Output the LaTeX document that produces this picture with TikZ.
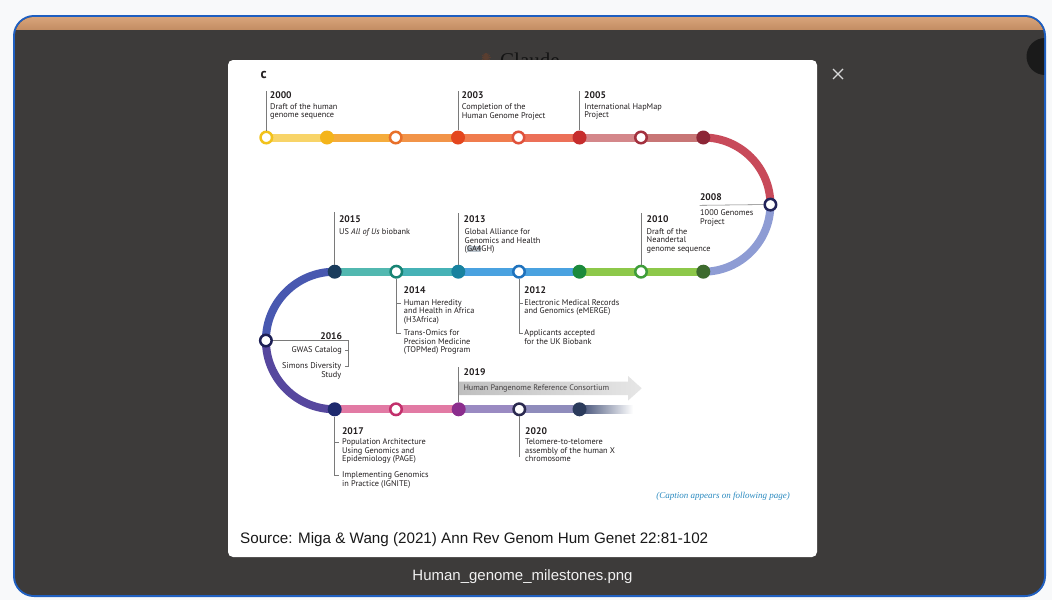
\documentclass[tikz,border=0pt]{standalone}
\usepackage{fontspec}
\newfontfamily\pts{PT Sans}
\newfontfamily\las{Liberation Sans}
\newfontfamily\lser{Liberation Serif}
\usetikzlibrary{calc}
\definecolor{pagebg}{HTML}{F8F9FA}
\definecolor{frameblue}{HTML}{1F5FC0}
\definecolor{darkbg}{HTML}{3D3B3A}
\definecolor{tanA}{HTML}{D8A47A}
\definecolor{tanB}{HTML}{C48E64}
\definecolor{btn}{HTML}{1A1A1A}
\definecolor{wm}{HTML}{141414}
\definecolor{wmicon}{HTML}{5A3E30}
\definecolor{xgray}{HTML}{D8D8D8}
\definecolor{ink}{HTML}{231F20}
\definecolor{leadc}{HTML}{7A7A7A}
\definecolor{hl}{HTML}{B9C3CC}
\definecolor{capc}{HTML}{2A8AC0}
% stations
\definecolor{cT1}{HTML}{F2C21B}\definecolor{cT2}{HTML}{F4B41A}\definecolor{cT3}{HTML}{E8702A}
\definecolor{cT4}{HTML}{E4461E}\definecolor{cT5}{HTML}{E0523C}\definecolor{cT6}{HTML}{C62D2D}
\definecolor{cT7}{HTML}{A3303E}\definecolor{cT8}{HTML}{8C2636}\definecolor{cR}{HTML}{22245A}
\definecolor{cM1}{HTML}{3D6B2E}\definecolor{cM2}{HTML}{3F9D3A}\definecolor{cM3}{HTML}{1B8A3C}
\definecolor{cM4}{HTML}{1F72BD}\definecolor{cM5}{HTML}{18829F}\definecolor{cM6}{HTML}{188474}
\definecolor{cM7}{HTML}{1A3C5C}\definecolor{cL}{HTML}{1D1F55}
\definecolor{cB1}{HTML}{1E2A6E}\definecolor{cB2}{HTML}{C2306C}\definecolor{cB3}{HTML}{8B2D8D}
\definecolor{cB4}{HTML}{2B2A50}\definecolor{cB5}{HTML}{2B3B5C}
% segments
\definecolor{s1}{HTML}{F8D468}\definecolor{s2}{HTML}{F5AC3C}\definecolor{s3}{HTML}{F29448}
\definecolor{s4}{HTML}{F07C4E}\definecolor{s5}{HTML}{EC7058}\definecolor{s6}{HTML}{D4878A}
\definecolor{s7}{HTML}{C87676}\definecolor{arcRa}{HTML}{C84A5A}\definecolor{arcRb}{HTML}{8E9CD4}
\definecolor{g1}{HTML}{8DC84A}\definecolor{bl1}{HTML}{4AA2E0}\definecolor{te1}{HTML}{46B2B6}
\definecolor{te2}{HTML}{52B8B0}\definecolor{arcLa}{HTML}{4858B0}\definecolor{arcLb}{HTML}{56479E}
\definecolor{pk}{HTML}{E27AA4}\definecolor{lv1}{HTML}{9A8AC2}\definecolor{lv2}{HTML}{8F8CBC}
\definecolor{fadeA}{HTML}{3E4C74}\definecolor{arrA}{HTML}{BFBFBF}\definecolor{arrB}{HTML}{E6E6E6}
\begin{document}
\begin{tikzpicture}[x=1pt,y=-1pt,
  seg/.style={line width=8pt},
  fst/.style={circle,inner sep=0pt,minimum size=14pt,draw=none},
  ost/.style={circle,inner sep=0pt,minimum size=11.5pt,line width=2.5pt,fill=white},
  lead/.style={draw=leadc,line width=0.55pt},
  yr/.style={font=\pts\bfseries\fontsize{9.6}{10}\selectfont,inner sep=0pt,anchor=west,text=ink},
  body/.style={font=\pts\fontsize{8.3}{8.6}\selectfont,inner sep=0pt,anchor=north west,align=left,text=ink},
  bodyr/.style={body,anchor=north east,align=right},
]
\useasboundingbox (0,0) rectangle (1052,600);
\fill[pagebg] (0,0) rectangle (1052,600);
\fill[frameblue, rounded corners=21pt] (13,15) rectangle (1046,597);
\begin{scope}
  \clip[rounded corners=19pt] (15,17) rectangle (1044,595);
  \fill[darkbg] (15,17) rectangle (1044,595);
  \shade[top color=tanA,bottom color=tanB] (15,17) rectangle (1044,29);
  \fill[btn] (1045,56.5) circle[radius=18.5pt];
  \foreach \a in {0,30,...,330} \draw[wmicon,line width=1.1pt] (486,57.5) -- ++(\a:4.5pt);
  \node[anchor=north west,inner sep=0pt,font=\lser\fontsize{21}{21}\selectfont,text=wm] (wmtext) at (500,52.5) {Claude};
\end{scope}
% card
\fill[white, rounded corners=5pt] (228,60) rectangle (817,557);
% close cross
\coordinate (xa) at (833,69); \coordinate (xb) at (843,79);
\coordinate (xc) at (843,69); \coordinate (xd) at (833,79);
\draw[xgray,line width=1.3pt] (xa) -- (xb) (xc) -- (xd);

% station coordinates
\foreach \n/\x in {t1/266.3,t2/327,t3/395.7,t4/458,t5/518.5,t6/579.5,t7/641,t8/703.3}
  \coordinate (\n) at (\x,137.5);
\coordinate (r) at (770.4,204.6);
\foreach \n/\x in {m1/703.3,m2/641,m3/579.5,m4/519,m5/458.3,m6/396.3,m7/334.7}
  \coordinate (\n) at (\x,271.7);
\coordinate (l) at (265.9,340.5);
\foreach \n/\x in {b1/334.7,b2/396,b3/458.7,b4/519.3,b5/579.5,bend/633}
  \coordinate (\n) at (\x,409.3);

% line segments
\draw[seg,s1] (t1) -- (t2);
\draw[seg,s2] (t2) -- (t3);
\draw[seg,s3] (t3) -- (t4);
\draw[seg,s4] (t4) -- (t5);
\draw[seg,s5] (t5) -- (t6);
\draw[seg,s6] (t6) -- (t7);
\draw[seg,s7] (t7) -- (t8);
\draw[seg,arcRa] (t8) arc[start angle=90,end angle=0,radius=67.1pt];
\draw[seg,arcRb] (r) arc[start angle=0,end angle=-90,radius=67.1pt];
\draw[seg,g1] (m1) -- (m2);
\draw[seg,g1] (m2) -- (m3);
\draw[seg,bl1] (m3) -- (m4);
\draw[seg,bl1] (m4) -- (m5);
\draw[seg,te1] (m5) -- (m6);
\draw[seg,te2] (m6) -- (m7);
\draw[seg,arcLa] (m7) arc[start angle=90,end angle=180,radius=68.8pt];
\draw[seg,arcLb] (l) arc[start angle=180,end angle=270,radius=68.8pt];
\draw[seg,pk] (b1) -- (b2);
\draw[seg,pk] (b2) -- (b3);
\draw[seg,lv1] (b3) -- (b4);
\draw[seg,lv2] (b4) -- (b5);
\shade[left color=fadeA,right color=white] ($(b5)+(0,-4)$) rectangle ($(bend)+(0,4)$);

% arrow 2019
\shade[left color=arrA,right color=arrB] (459,381.6) -- (628,381.6) -- (628,376) -- (641.7,388.3)
  -- (628,400.6) -- (628,395) -- (459,395) -- cycle;
\node[font=\pts\fontsize{8.1}{9}\selectfont,inner sep=0pt,anchor=west,text=ink!85] (hprc) at (463.3,388.3) {Human Pangenome Reference Consortium};

% stations
\node[ost,draw=cT1] (S00) at (t1) {};
\node[fst,fill=cT2] at (t2) {};
\node[ost,draw=cT3] at (t3) {};
\node[fst,fill=cT4] (S03) at (t4) {};
\node[ost,draw=cT5] at (t5) {};
\node[fst,fill=cT6] (S05) at (t6) {};
\node[ost,draw=cT7] at (t7) {};
\node[fst,fill=cT8] at (t8) {};
\node[ost,draw=cR] (S08) at (r) {};
\node[fst,fill=cM1] at (m1) {};
\node[ost,draw=cM2] (S10) at (m2) {};
\node[fst,fill=cM3] at (m3) {};
\node[ost,draw=cM4] (S12) at (m4) {};
\node[fst,fill=cM5] (S13) at (m5) {};
\node[ost,draw=cM6] (S14) at (m6) {};
\node[fst,fill=cM7] (S15) at (m7) {};
\node[ost,draw=cL] (S16) at (l) {};
\node[fst,fill=cB1] (S17) at (b1) {};
\node[ost,draw=cB2] at (b2) {};
\node[fst,fill=cB3] (S19) at (b3) {};
\node[ost,draw=cB4] (S20) at (b4) {};
\node[fst,fill=cB5] at (b5) {};

% lead line end points
\coordinate (e00) at (266.3,90.7);
\coordinate (e03) at (458,90.7);
\coordinate (e05) at (579.5,90.7);
\coordinate (e08) at (699.5,205.3);
\coordinate (e13) at (458.3,213.3);
\coordinate (e10) at (641,213.3);
\coordinate (e15) at (334.7,211.7);
\coordinate (k14) at (396.3,333); \coordinate (h14) at (400.5,333);
\coordinate (ta14) at (396.3,303); \coordinate (tb14) at (400.5,303);
\coordinate (k12) at (519,333); \coordinate (h12) at (523,333);
\coordinate (ta12) at (519,303); \coordinate (tb12) at (523,303);
\coordinate (c16) at (348,340.5); \coordinate (k16) at (348,366); \coordinate (h16) at (344.5,366);
\coordinate (ta16) at (348,350.5); \coordinate (tb16) at (344.5,350.5);
\coordinate (k17) at (334.7,475); \coordinate (h17) at (338.8,475);
\coordinate (ta17) at (334.7,442.5); \coordinate (tb17) at (338.8,442.5);
\coordinate (e19) at (458.7,367);
\coordinate (e20) at (519.3,456.7);

\draw[lead] (S00.north) -- (e00);
\draw[lead] (S03.north) -- (e03);
\draw[lead] (S05.north) -- (e05);
\draw[lead] (S08.west) -- (e08);
\draw[lead] (S13.north) -- (e13);
\draw[lead] (S10.north) -- (e10);
\draw[lead] (S15.north) -- (e15);
\draw[lead] (S14.south) -- (k14) -- (h14) (ta14) -- (tb14);
\draw[lead] (S12.south) -- (k12) -- (h12) (ta12) -- (tb12);
\draw[lead] (S16.east) -- (c16) -- (k16) -- (h16) (ta16) -- (tb16);
\draw[lead] (S17.south) -- (k17) -- (h17) (ta17) -- (tb17);
\draw[lead] (S19.north) -- (e19);
\draw[lead] (S20.south) -- (e20);

% labels
\node[font=\pts\bfseries\fontsize{14}{14}\selectfont,inner sep=0pt,anchor=west,text=ink] (panel) at (260.3,75) {c};

\node[yr] (y00) at (269.7,95.5) {2000};
\node[body] (d00) at (270,103.3) {Draft of the human\\genome sequence};
\node[yr] (y03) at (461.5,95.5) {2003};
\node[body] (d03) at (461.7,103.3) {Completion of the\\Human Genome Project};
\node[yr] (y05) at (584,95.5) {2005};
\node[body] (d05) at (584.2,103.3) {International HapMap\\Project};
\node[yr] (y08) at (699.8,196.7) {2008};
\node[body] (d08) at (700,209.3) {1000 Genomes\\Project};
\node[yr] (y13) at (463.5,219) {2013};
\node[body] (d13) at (464.5,228.3) {Global Alliance for\\Genomics and Health\\({\setlength\fboxsep{0pt}\colorbox{hl}{GA4}}GH)};
\node[yr] (y10) at (646.5,219) {2010};
\node[body] (d10) at (646.5,228.3) {Draft of the\\Neandertal\\genome sequence};
\node[yr] (y15) at (338.8,219) {2015};
\node[body] (d15) at (339,228.8) {US \textit{All of Us} biobank};
\node[yr] (y14) at (403.5,290) {2014};
\node[body] (d14a) at (403.7,299.3) {Human Heredity\\and Health in Africa\\(H3Africa)};
\node[body] (d14b) at (403.7,329.4) {Trans-Omics for\\Precision Medicine\\(TOPMed) Program};
\node[yr] (y12) at (524,290) {2012};
\node[body] (d12a) at (524.2,299.3) {Electronic Medical Records\\and Genomics (eMERGE)};
\node[body] (d12b) at (524.2,329.6) {Applicants accepted\\for the UK Biobank};
\node[yr,anchor=east] (y16) at (342.3,335.7) {2016};
\node[bodyr] (d16a) at (342,346.6) {GWAS Catalog};
\node[bodyr] (d16b) at (341.5,362.3) {Simons Diversity\\Study};
\node[yr] (y17) at (341.8,430.7) {2017};
\node[body] (d17a) at (342,438.6) {Population Architecture\\Using Genomics and\\Epidemiology (PAGE)};
\node[body] (d17b) at (342,471.6) {Implementing Genomics\\in Practice (IGNITE)};
\node[yr] (y19) at (463.5,372.3) {2019};
\node[yr] (y20) at (525,430.7) {2020};
\node[body] (d20) at (525,438.6) {Telomere-to-telomere\\assembly of the human X\\chromosome};

\node[font=\lser\itshape\fontsize{9}{10}\selectfont,text=capc,inner sep=0pt,anchor=east] (cap) at (790,496.7) {(Caption appears on following page)};
\node[font=\las\fontsize{15.2}{16}\selectfont,text=black!90,inner sep=0pt,anchor=west] (src) at (240,539.5) {Source: Miga \& Wang (2021) Ann Rev Genom Hum Genet 22:81-102};
\node[font=\las\fontsize{15}{16}\selectfont,text=white!94!black,inner sep=0pt] (fname) at (522.5,576.5) {Human\_genome\_milestones.png};
\end{tikzpicture}
\end{document}
